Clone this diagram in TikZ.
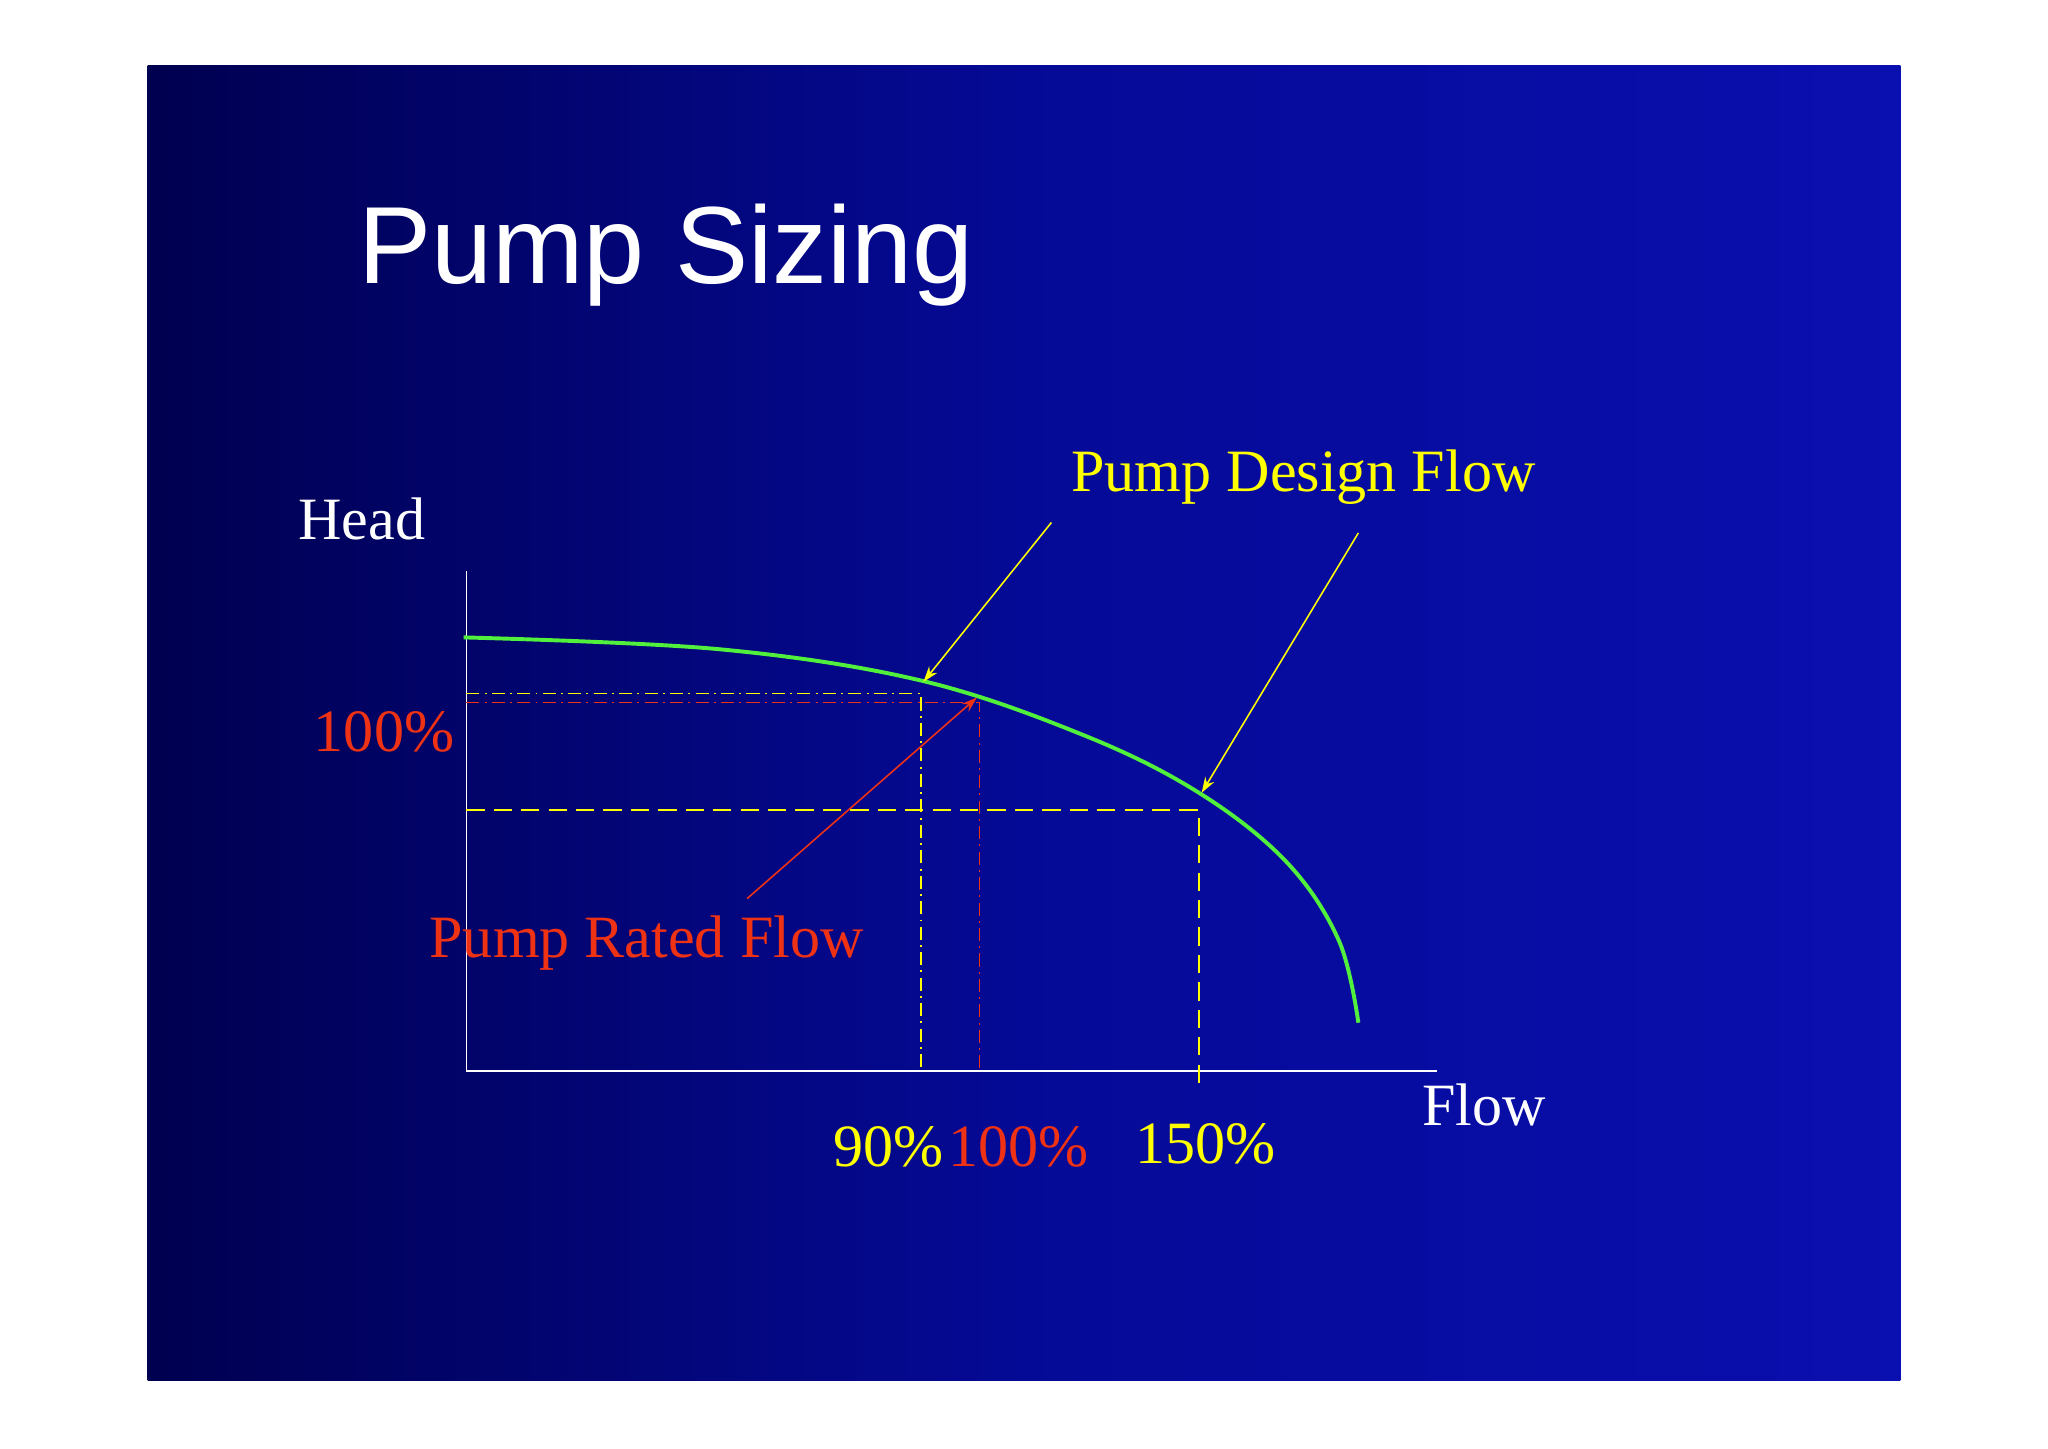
\documentclass[tikz,border=0pt]{standalone}
\usepackage{fontspec}
\setmainfont{Liberation Serif}
\newfontfamily\titlefont{Liberation Sans}
\usetikzlibrary{arrows.meta}
\definecolor{ylw}{RGB}{255,255,0}
\definecolor{rd}{RGB}{240,50,20}
\definecolor{grn}{RGB}{80,240,60}
\definecolor{bgA}{RGB}{0,0,80}
\definecolor{bgB}{RGB}{5,10,150}
\definecolor{bgC}{RGB}{10,15,175}
\tikzset{lbl/.style={font=\fontsize{46}{50}\selectfont},
 arr/.style={line width=1.2pt,-{Stealth[length=12pt,width=8pt]}},
 dd/.style={line width=1.2pt,dash pattern=on 10pt off 4pt on 1.5pt off 4pt}}
\begin{document}
\begin{tikzpicture}[x=1pt,y=-1pt]
\useasboundingbox (0,0) rectangle (1568,1109);
\fill[white] (0,0) rectangle (1568,1109);
\shade[shading=axis,shading angle=135,left color=bgA,right color=bgC,middle color=bgB] (113,50) rectangle (1455,1057);
\node[white,font=\titlefont\fontsize{84}{90}\selectfont] (title) at (510,195) {Pump Sizing};
\draw[white,line width=1.2pt] (357,437) -- (357,820) -- (1100,820);
\draw[ylw,dd] (357,531) -- (705,531) -- (705,820);
\draw[rd,dd] (357,538) -- (750,538) -- (750,820);
\draw[ylw,line width=1.2pt,dash pattern=on 14pt off 7pt] (357,620) -- (918,620) -- (918,833);
\draw[grn,line width=3pt] plot[smooth,tension=0.6] coordinates {(355,488) (550,497) (705,521) (830,563) (918,607) (985,660) (1025,720) (1040,783)};
\node[lbl,white] (head) at (277,397) {Head};
\node[lbl,rd] (h100) at (294,560) {100\%};
\node[lbl,rd] (rated) at (495,722) {Pump Rated Flow};
\node[lbl,ylw] (design) at (998,365) {Pump Design Flow};
\node[lbl,white] (flow) at (1136,846) {Flow};
\node[lbl,ylw] (f90) at (680,878) {90\%};
\node[lbl,rd] (f100) at (780,878) {100\%};
\node[lbl,ylw] (f150) at (923,876) {150\%};
\coordinate (d1) at (707,522);
\coordinate (d2) at (920,607);
\coordinate (r1) at (748,534);
\draw[arr,ylw] (805,400) -- (d1);
\draw[arr,ylw] (1040,408) -- (d2);
\draw[arr,rd] (572,688) -- (r1);
\end{tikzpicture}
\end{document}
